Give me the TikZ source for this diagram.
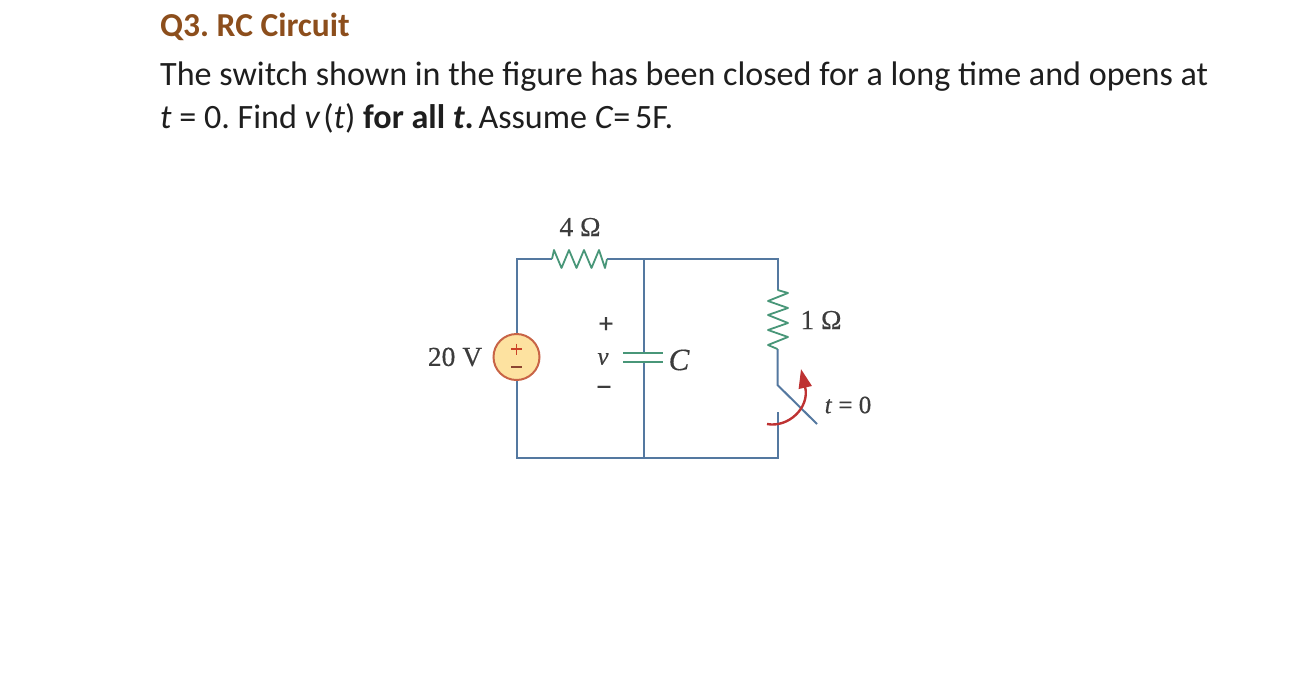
\documentclass[tikz,border=0pt]{standalone}
\usepackage{fontspec}
\setmainfont{Carlito}
\newfontfamily\circuitfont[FakeBold=0.4]{Liberation Serif}
\usetikzlibrary{arrows.meta,calc}
\definecolor{wireblue}{RGB}{84,120,160}
\definecolor{resgreen}{RGB}{72,150,120}
\definecolor{titlebrown}{RGB}{140,78,28}
\definecolor{srcfill}{RGB}{253,226,160}
\definecolor{srcedge}{RGB}{200,100,70}
\definecolor{swred}{RGB}{190,50,50}
\definecolor{inkgray}{RGB}{60,60,60}
\definecolor{bodyink}{RGB}{30,30,30}
\tikzset{
  wire/.style={draw=wireblue,line width=2pt,line join=miter},
  res/.style={draw=resgreen,line width=1.8pt,line join=round},
  body/.style={font=\fontsize{34.1}{40}\selectfont,text=bodyink,anchor=base west,inner sep=0pt},
  lab/.style={font=\circuitfont\fontsize{27.5}{30}\selectfont,text=inkgray,inner sep=0pt},
}
\begin{document}
\frenchspacing
\begin{tikzpicture}[x=1pt,y=-1pt]
\useasboundingbox (0,0) rectangle (1302,673);
% text
\node[body,text=titlebrown,font=\fontsize{33.5}{38}\selectfont\bfseries] (title) at (160,36) {Q3. RC Circuit};
\node[body] (line1) at (160,85) {The switch shown in the figure has been closed for a long time and opens at};
\node[body] (line2) at (160,128) {\textit{t} = 0. Find \textit{v}\hspace{-5pt} (\textit{t}) \textbf{for all \textit{t}.}\hspace{-3pt} Assume \textit{C}=\hspace{-3pt} 5F.};
% junctions
\coordinate (tl) at (516.5,259);
\coordinate (tm) at (643.5,259);
\coordinate (tr) at (777.5,259);
\coordinate (bl) at (516.5,458);
\coordinate (bm) at (643.5,458);
\coordinate (br) at (777.5,458);
\coordinate (r1a) at (552,259);
\coordinate (r1b) at (607,259);
\coordinate (r2a) at (777.5,290);
\coordinate (r2b) at (777.5,349);
\coordinate (capt) at (643.5,353);
\coordinate (capb) at (643.5,362);
\coordinate (swa) at (777.5,385);
\coordinate (swb) at (817,424);
\coordinate (swc) at (777.5,412);
% source
\node[circle,draw=srcedge,fill=srcfill,line width=2pt,minimum size=46pt,inner sep=0pt] (src) at (516.5,357) {};
\draw[swred!80!orange,line width=1.8pt] (511,349) -- (522,349) (516.5,343.5) -- (516.5,354.5);
\draw[srcedge!70!black,line width=1.8pt] (511,367) -- (522,367);
% wires
\draw[wire] (src.north) -- (tl) -- (r1a);
\draw[wire] (r1b) -- (tm) -- (tr) -- (r2a);
\draw[wire] (r2b) -- (swa) -- (swb);
\draw[wire] (swc) -- (br) -- (bm) -- (bl) -- (src.south);
\draw[wire] (tm) -- (capt);
\draw[wire] (capb) -- (bm);
% resistors
\draw[res] (r1a) -- (554,250) -- (561.5,268) -- (569,250) -- (576.5,268) -- (584,250) -- (591.5,268) -- (599,250) -- (605,268) -- (r1b);
\draw[res] (r2a) -- (788,293) -- (768,301) -- (788,308) -- (768,315) -- (788,323) -- (768,330) -- (788,337) -- (768,345) -- (r2b);
% capacitor
\draw[res] (623,353) -- (663,353);
\draw[res] (623,362) -- (663,362);
% switch arrow
\draw[swred,line width=2.4pt,-{Triangle[length=19pt,width=13pt]}] (767,424) .. controls (788,428) and (810,408) .. (801,369);
% labels
\node[lab] (l4) at (580,227) {4 Ω};
\node[lab] (l20) at (455,357) {20 V};
\node[lab,font=\circuitfont\bfseries\fontsize{27.5}{30}\selectfont] (lp) at (606,325) {+};
\node[lab,font=\circuitfont\itshape\fontsize{25}{28}\selectfont] (lv) at (603,359) {v};
\node[lab,font=\circuitfont\bfseries\fontsize{27.5}{30}\selectfont] (lm) at (604,391) {−};
\node[lab,font=\circuitfont\itshape\fontsize{31}{32}\selectfont] (lc) at (679,360) {C};
\node[lab] (l1) at (821,320) {1 Ω};
\node[lab,font=\circuitfont\fontsize{25}{26}\selectfont] (lt) at (848,405) {\textit{t} = 0};
\end{tikzpicture}
\end{document}
